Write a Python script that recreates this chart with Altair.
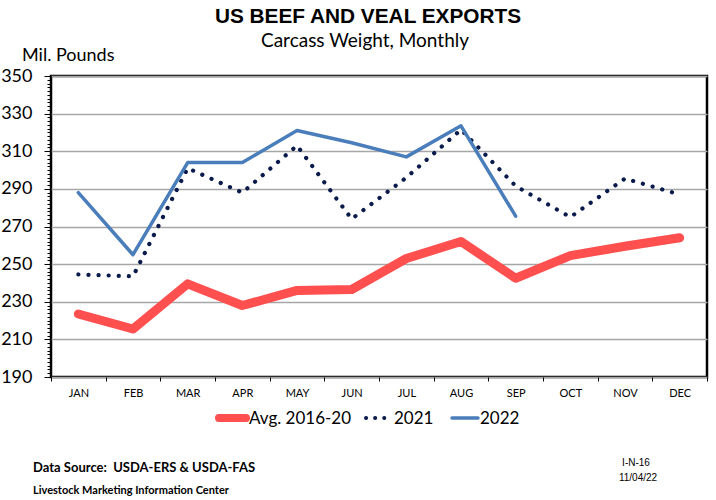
import altair as alt
import pandas as pd

months = ["JAN", "FEB", "MAR", "APR", "MAY", "JUN", "JUL", "AUG", "SEP", "OCT", "NOV", "DEC"]
avg_2016_20 = [223.5, 215.5, 239.5, 228.0, 236.0, 236.5, 253.0, 262.0, 242.5, 254.5, 259.5, 264.0]
exports_2021 = [244.5, 243.5, 301.0, 288.0, 313.0, 274.0, 296.0, 321.5, 291.5, 275.0, 295.5, 287.0]
exports_2022 = [288.0, 255.0, 304.0, 304.0, 321.0, 314.5, 307.0, 323.5, 275.5]
series_names = ["Avg. 2016-20", "2021", "2022"]
series_colors = ["#FF4F4F", "#0A1A4A", "#4A7EBB"]

rows = []
for name, vals in zip(series_names, [avg_2016_20, exports_2021, exports_2022]):
    for m, v in zip(months, vals):
        rows.append({"month": m, "value": v, "series": name})
df = pd.DataFrame(rows)

x_enc = alt.X(
    "month:N", sort=months, bandPosition=0.5,
    scale=alt.Scale(type="band", domain=months, paddingInner=0, paddingOuter=0),
    axis=alt.Axis(title=None, tickBand="extent", tickSize=4, tickColor="black", tickWidth=1,
                  domain=False, grid=False, labelFont="Lato", labelFontSize=11,
                  labelColor="black", labelPadding=6, labelAngle=0),
)
y_enc = alt.Y(
    "value:Q",
    scale=alt.Scale(domain=[190, 350], nice=False, zero=False),
    axis=alt.Axis(
        title=None, values=list(range(190, 351, 2)),
        labelExpr="datum.value % 20 == 10 ? datum.label : ''",
        labelOverlap=False,
        tickSize={"condition": {"test": "datum.value % 20 == 10", "value": 7}, "value": 4},
        tickColor="black", tickWidth=1, domain=False, grid=True,
        gridOpacity={"condition": {"test": "datum.value % 20 == 10", "value": 1}, "value": 0},
        gridColor="#A6A6A6", gridWidth=1.5,
        labelFont="Lato", labelFontSize=18, labelColor="black", labelPadding=12,
    ),
)
color_enc = alt.Color("series:N", scale=alt.Scale(domain=series_names, range=series_colors), legend=None)

base = alt.Chart(df)
avg_line = base.transform_filter(alt.datum.series == series_names[0]).mark_line(
    strokeWidth=9, strokeCap="round", strokeJoin="round"
).encode(x=x_enc, y=y_enc, color=color_enc)
line_2021 = base.transform_filter(alt.datum.series == series_names[1]).mark_line(
    strokeWidth=4.2, strokeCap="round", strokeDash=[0.1, 10]
).encode(x=x_enc, y=y_enc, color=color_enc)
line_2022 = base.transform_filter(alt.datum.series == series_names[2]).mark_line(
    strokeWidth=3.5, strokeCap="round", strokeJoin="round"
).encode(x=x_enc, y=y_enc, color=color_enc)

one = pd.DataFrame({"k": [0]})


def label(text, x, y, size, font, weight="normal", align="left"):
    return alt.Chart(one).mark_text(
        text=text, align=align, baseline="alphabetic", font=font, fontSize=size,
        fontWeight=weight, color="black"
    ).encode(x=alt.value(x), y=alt.value(y))


def swatch(x1, x2, y, color, width, dash=None):
    kw = dict(strokeWidth=width, strokeCap="round", color=color)
    if dash:
        kw["strokeDash"] = dash
    return alt.Chart(one).mark_rule(**kw).encode(x=alt.value(x1), x2=alt.value(x2), y=alt.value(y))


texts = [
    label("US BEEF AND VEAL EXPORTS", 317, -53, 20.8, "Liberation Sans", "bold", "center"),
    label("Carcass Weight, Monthly", 314, -29, 19, "Lato", "normal", "center"),
    label("Mil. Pounds", -29, -15, 18, "Lato"),
    swatch(168, 195, 342, series_colors[0], 8),
    label(series_names[0], 198, 348, 17, "Lato"),
    swatch(315, 342, 342, series_colors[1], 4, [0.1, 9]),
    label(series_names[1], 343, 348, 17, "Lato"),
    swatch(401, 427, 342, series_colors[2], 3.5),
    label(series_names[2], 429, 348, 17, "Lato"),
    label("Data Source:\u00a0\u00a0USDA-ERS & USDA-FAS", -18, 396, 13, "Lato", "bold"),
    label("Livestock Marketing Information Center", -18, 418, 11, "Lato", "bold"),
    label("I-N-16", 585, 390, 10, "Liberation Sans", "normal", "center"),
    label("11/04/22", 587, 405, 10, "Liberation Sans", "normal", "center"),
]

chart = alt.layer(avg_line, line_2021, line_2022, *texts).properties(
    width=656, height=301,
    autosize=alt.AutoSizeParams(type="none"),
    padding={"left": 51, "top": 76, "right": 9, "bottom": 123},
).configure_view(stroke="black", strokeWidth=2.5)

chart.save("out.html", embed_options={"renderer": "svg", "actions": False})
